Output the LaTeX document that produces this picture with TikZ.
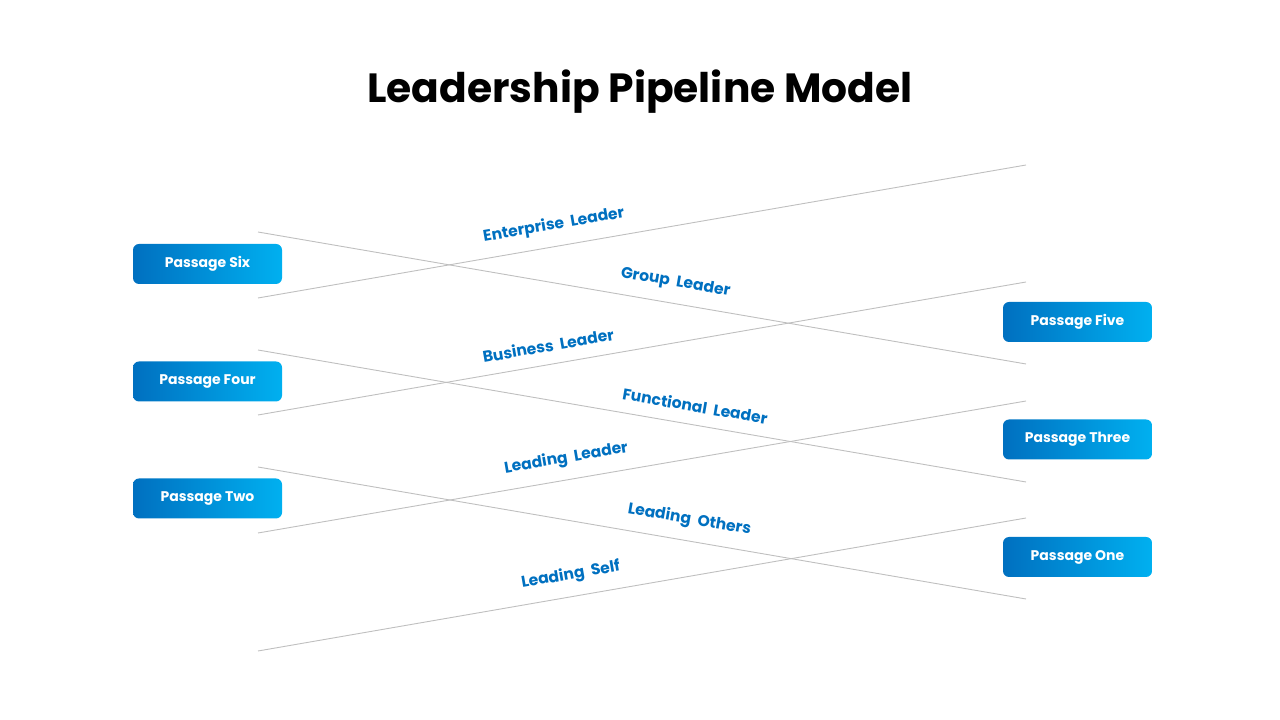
\documentclass[tikz,border=0pt]{standalone}
\usepackage{fontspec}
\setmainfont{Poppins}
\newfontfamily\lblfont[WordSpace=2]{Poppins}
\usepackage{tikz}

\definecolor{passdark}{HTML}{0070C0}
\definecolor{passlight}{HTML}{00B0F0}
\definecolor{lbltext}{HTML}{0070C0}
\definecolor{pipe}{HTML}{BFBFBF}

\tikzset{
    passage/.style={rounded corners=6pt, left color=passdark, right color=passlight,
        minimum width=149pt, minimum height=40pt, inner sep=0pt,
        text=white, font=\fontsize{14}{16}\selectfont\bfseries},
    pipeline/.style={draw=pipe, line width=0.9pt},
    stage/.style={sloped, above=9pt, text=lbltext, font=\lblfont\fontsize{15.6}{18}\selectfont\bfseries}
}

\begin{document}
\begin{tikzpicture}[x=1pt, y=1pt]
    \useasboundingbox (0, 0) rectangle (1280, 720);
    % title
    \node[font=\fontsize{40.8}{48}\selectfont\bfseries, anchor=base] (title) at (640, 617) {Leadership Pipeline Model};
    % line ends
    \coordinate (a0) at (258, 422); \coordinate (a1) at (1026, 555);
    \coordinate (b0) at (258, 488); \coordinate (b1) at (1026, 356);
    \coordinate (c0) at (258, 305); \coordinate (c1) at (1026, 438);
    \coordinate (d0) at (258, 370); \coordinate (d1) at (1026, 238);
    \coordinate (e0) at (258, 187); \coordinate (e1) at (1026, 319);
    \coordinate (f0) at (258, 253); \coordinate (f1) at (1026, 121);
    \coordinate (g0) at (258, 69);  \coordinate (g1) at (1026, 202);
    % pipelines with stages
    \draw[pipeline] (a0) -- (a1) node[stage, pos=0.390] (ent) {Enterprise Leader};
    \draw[pipeline] (b0) -- (b1) node[stage, pos=0.539] (grp) {Group Leader};
    \draw[pipeline] (c0) -- (c1) node[stage, pos=0.382] (bus) {Business Leader};
    \draw[pipeline] (d0) -- (d1) node[stage, pos=0.565] (fun) {Functional Leader};
    \draw[pipeline] (e0) -- (e1) node[stage, pos=0.406] (lld) {Leading Leader};
    \draw[pipeline] (f0) -- (f1) node[stage, pos=0.557] (lot) {Leading Others};
    \draw[pipeline] (g0) -- (g1) node[stage, pos=0.412] (lsf) {Leading Self};
    % left passages
    \node[passage] (p6) at (207.5, 456) {Passage Six};
    \node[passage] (p4) at (207.5, 338.5) {Passage Four};
    \node[passage] (p2) at (207.5, 221.5) {Passage Two};
    % right passages
    \node[passage] (p5) at (1077.5, 398) {Passage Five};
    \node[passage] (p3) at (1077.5, 280.5) {Passage Three};
    \node[passage] (p1) at (1077.5, 163) {Passage One};
\end{tikzpicture}
\end{document}
